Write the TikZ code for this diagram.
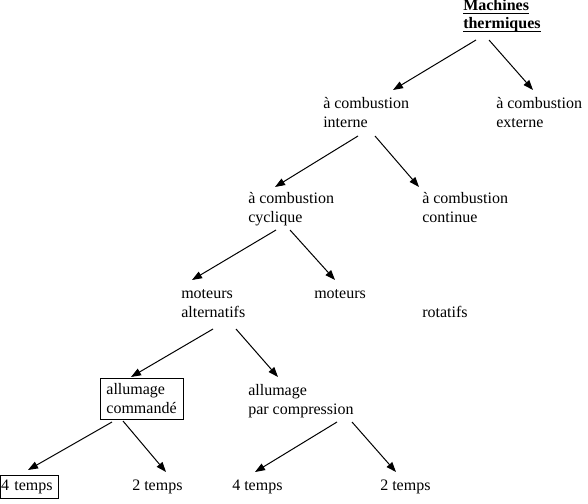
\documentclass[tikz,border=0pt]{standalone}
\usepackage{fontspec}
\setmainfont{Liberation Serif}
\usetikzlibrary{arrows.meta}
\def\myul#1{\setbox0\hbox{#1}\rlap{\rule[-2.4pt]{\wd0}{1.1pt}}\box0}
\tikzset{
  lbl/.style={anchor=base west, inner sep=0pt, align=left, font=\fontsize{12pt}{14.25pt}\selectfont},
  boxed/.style={draw, line width=0.75pt, inner sep=0pt, align=left, font=\fontsize{12pt}{14.25pt}\selectfont},
  arr/.style={line width=0.75pt, -{Triangle[length=7.5pt,width=5.5pt]}}
}
\begin{document}
\begin{tikzpicture}[x=0.75pt,y=-0.75pt]
\useasboundingbox (0,0) rectangle (588,503);
% nodes (base = baseline of the last line)
\node[lbl, font=\fontsize{12pt}{13.5pt}\selectfont\bfseries] (mt) at (463,29) {\myul{Machines}\\\myul{thermiques}};
\node[lbl] (ci) at (323,127) {à combustion\\interne};
\node[lbl] (ce) at (496,127) {à combustion\\externe};
\node[lbl] (cc) at (248,222) {à combustion\\cyclique};
\node[lbl] (cn) at (422,222) {à combustion\\continue};
\node[lbl] (ma) at (181,317) {moteurs\\alternatifs};
\node[lbl] (mr) at (314,298) {moteurs};
\node[lbl] (mr2) at (422,317) {rotatifs};
\node[boxed, minimum width=62.25pt, minimum height=30.75pt] (ac) at (141.5,398.5) {allumage\\commandé};
\node[lbl] (ap) at (248,414) {allumage\\par compression};
\node[boxed, text width=43pt, inner xsep=0.4pt, minimum height=17.25pt] (t1) at (29.7,486.5) {4 temps};
\node[lbl] (t2) at (132,490) {2 temps};
\node[lbl] (t3) at (232,490) {4 temps};
\node[lbl] (t4) at (380,490) {2 temps};
% connectors
\draw[arr] ([shift={(13,11)}]mt.base west) -- ([shift={(70,-37)}]ci.base west);
\draw[arr] ([shift={(26,11)}]mt.base west) -- ([shift={(37,-37)}]ce.base west);
\draw[arr] ([shift={(35,9)}]ci.base west) -- ([shift={(27,-35)}]cc.base west);
\draw[arr] ([shift={(52,9)}]ci.base west) -- ([shift={(-3,-35)}]cn.base west);
\draw[arr] ([shift={(28,8)}]cc.base west) -- ([shift={(11,-37)}]ma.base west);
\draw[arr] ([shift={(42,8)}]cc.base west) -- ([shift={(21,-18)}]mr.base west);
\draw[arr] ([shift={(32,12)}]ma.base west) -- ([shift={(-10.5,-21.5)}]ac.center);
\draw[arr] ([shift={(55,12)}]ma.base west) -- ([shift={(30,-37)}]ap.base west);
\draw[arr] ([shift={(-29.5,23.5)}]ac.center) -- ([shift={(-1.7,-16.5)}]t1.center);
\draw[arr] ([shift={(-18.5,22.5)}]ac.center) -- ([shift={(34,-18)}]t2.base west);
\draw[arr] ([shift={(89,8)}]ap.base west) -- ([shift={(23,-18)}]t3.base west);
\draw[arr] ([shift={(104,8)}]ap.base west) -- ([shift={(16,-18)}]t4.base west);
\end{tikzpicture}
\end{document}
